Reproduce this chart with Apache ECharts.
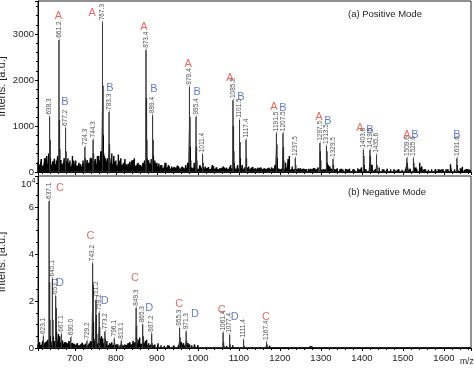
<!DOCTYPE html>
<html><head><meta charset="utf-8">
<script src="https://cdn.jsdelivr.net/npm/echarts@6/dist/echarts.min.js"></script>
<style>html,body{margin:0;padding:0;background:#fff}#c{width:474px;height:379px}</style>
</head><body><div id="c"></div>
<script>
// ---------- Positive mode (a) ----------
const posLabelMz  = [638.3,661.2,677.2,724.3,744.3,767.3,783.3,873.4,889.4,979.4,995.4,1011.4,1085.5,1101.5,1117.4,1191.5,1207.5,1237.5,1297.5,1313.5,1329.5,1403.6,1419.6,1435.6,1509.6,1525.6,1631.6];
const posLabelInt = [1200,2870,950,540,700,3250,1300,2650,1230,1850,1200,380,1560,1130,700,840,840,300,630,560,280,480,480,370,300,300,300];

const posMinorMz  = [626,631,636,639.3,640.3,655,659,662.2,663.2,664.2,678.2,679.2,683,688,694,697,720,725.3,730,740,745.3,750,755,758,763,768.3,769.3,770.3,772,779,784.3,785.3,790,795,800,806,812,820,830,838,845,852,860,866,870,874.4,875.4,876.4,880,886,890.4,891.4,895,900,905,912,920,928,936,945,952,960,970,975,980.4,981.4,982.4,991,996.4,997.4,1005,1012.4,1018,1025,1035,1045,1055,1065,1080,1086.5,1087.5,1088.5,1097,1102.5,1103.5,1108,1118.4,1124,1132,1140,1150,1160,1170,1180,1188,1192.5,1193.5,1208.5,1209.5,1214,1220,1223,1230,1238.5,1245,1255,1265,1275,1285,1293,1298.5,1299.5,1314.5,1315.5,1318,1322,1330.5,1340,1350,1360,1370,1380,1390,1399,1404.6,1405.6,1420.6,1421.6,1425,1436.6,1442,1450,1460,1470,1480,1490,1510.6,1511.6,1526.6,1527.6,1532,1541,1546,1555,1570,1580,1595,1605,1616,1617,1632.6,1640,1645,1655];
const posMinorInt = [300,350,400,700,300,250,300,1130,500,200,450,200,300,250,350,250,250,300,200,300,400,250,350,350,450,1880,800,400,350,300,600,300,400,350,250,380,300,200,180,250,300,180,150,200,250,1600,700,300,250,280,700,350,250,200,180,150,200,150,120,100,130,100,150,200,1200,550,250,200,550,250,150,200,120,100,150,100,80,100,150,1000,450,200,150,650,300,150,300,120,100,80,90,70,80,100,150,600,300,550,250,200,280,350,120,150,80,70,60,70,80,100,450,250,450,200,150,120,150,80,60,70,60,60,80,100,350,150,350,180,150,150,100,60,50,60,50,60,200,100,200,100,100,200,120,60,50,60,50,60,170,100,150,80,110,60];

const noiseStart = 610, noiseStep = 4;
const posNoise = [220,160,280,140,240,310,180,260,150,230, 290,170,350,200,260,180,300,150,240,190, 120,210,160,250,140,200,170,120,180,150, 260,200,310,170,240,280,190,350,260,220, 180,300,240,200,150,260,180,230,140,200, 250,160,190,280,170,140,220,180,260,150, 130,200,160,120,180,230,150,260,190,210, 170,140,190,
 120,90,150,80,110,200,100,130,70,90, 110,80,140,100,70,120,90,60,100,80, 130,90,70,110,80,60,120,90,100,70, 80,110,60,90,130,70,100,60,80,90, 120,70,90,60,110,80,70,100,60,90, 70,80,60,100,70,90,60,80,110,70, 60,90,70,100,60,80,70,50,90,60, 80,70,60,90,70,
 60,80,50,70,90,60,50,80,60,70, 50,60,80,50,70,60,40,70,50,60, 80,50,60,40,70,50,60,50,80,60, 40,70,50,60,50,40,60,70,50,40, 60,50,70,40,60,50,40,60,50,70, 40,50,60,40,50,70,40,50,60,40, 50,40,60,50,40,70,40,50,40,60, 40,50,60,40,50,40,60,40,50,70, 40,50,40,60,40,50,40,50,60,40, 50,40,60,40,50,40,60,50,40,60, 40,50,60,40,50,40,60,40,50,40, 60,40,50,40,60,50,40];

const posAMz = [659.5,742,868.3,976.3,1078,1185.4,1295,1395,1509.8];
const posAY  = [3390,3465,3160,2350,2035,1413,1196,957,804];
const posBMz = [675.6,785.4,892.7,998.3,1104.9,1207.3,1317,1419.5,1529,1631.7];
const posBY  = [1530,1820,1800,1745,1630,1390,1110,913,804,804];

// ---------- Negative mode (b), intensity in 10^4 ----------
const negLabelMz  = [623.1,637.1,645.1,653.1,667.1,690.0,729.2,743.2,751.2,759.2,773.2,796.1,813.1,849.3,865.3,887.2,955.3,971.3,1061.4,1077.4,1111.4,1167.4];
const negLabelInt = [0.5,6.25,2.95,2.2,0.6,0.45,0.3,3.6,2.05,1.5,0.7,0.4,0.3,1.7,1.0,0.6,0.85,0.7,0.65,0.55,0.35,0.25];

const negMinorMz  = [628,632,638.1,639.1,640.1,646.1,647.1,654.1,655.1,660,663,668.1,675,680,691,700,710,720,735,738,744.2,745.2,746.2,752.2,753.2,760.2,761.2,765,768,774.2,778,785,790,797.1,805,814.1,820,830,840,846,850.3,851.3,856,858,866.3,867.3,872,875,880,888.2,895,903,910,956.3,957.3,960,965,972.3,976,980,985,992,1000,1010,1062.4,1063.4,1070,1078.4,1085,1092,1112.4,1168.4,1175,1182,1190,1275,1290];
const negMinorInt = [0.25,0.3,2.8,1.2,0.5,1.2,0.5,1.7,0.7,0.6,0.5,0.35,0.25,0.2,0.2,0.15,0.12,0.15,0.2,0.3,2.7,1.1,0.4,1.4,0.6,0.9,0.4,0.5,0.4,0.4,0.3,0.2,0.25,0.2,0.15,0.15,0.1,0.12,0.15,0.25,0.95,0.4,0.35,0.45,0.5,0.2,0.3,0.35,0.2,0.2,0.15,0.2,0.1,0.45,0.2,0.25,0.2,0.3,0.2,0.15,0.12,0.15,0.12,0.08,0.25,0.1,0.1,0.15,0.12,0.08,0.1,0.15,0.1,0.08,0.06,0.06,0.05];

const negNoise = [0.15,0.25,0.12,0.3,0.18,0.22,0.35,0.2,0.28,0.15, 0.3,0.2,0.25,0.4,0.22,0.3,0.18,0.25,0.2,0.3, 0.15,0.22,0.18,
 0.12,0.2,0.1,0.15,0.22,0.12,0.18,0.1,0.14,0.2, 0.25,0.15,0.3,0.2,0.18,0.25,0.15,0.2,0.12,0.18, 0.1,0.15,0.2,0.12,0.1,0.15,0.08,0.12,0.18,0.1, 0.15,0.12,0.2,0.25,0.15,0.3,0.2,0.25,0.15,0.2, 0.18,0.12,0.2,0.15,0.1,0.12,0.15,0.1,0.12,0.08,
 0.1,0.08,0.12,0.06,0.1,0.08,0.12,0.1,0.06,0.08, 0.1,0.06,0.08,0.12,0.1,0.15,0.1,0.12,0.08,0.1, 0.06,0.08,0.05,0.07,0.06,0.08,0.05,0.06,0.04,0.06, 0.05,0.07,0.05,0.06,0.08,0.05,0.06,0.04,0.05,0.06, 0.04,0.05,0.06,0.04,0.05,0.07,0.04,0.05,0.04,0.06, 0.04,0.05,0.04,0.06,0.05,0.04,0.05,0.04,0.06,0.04, 0.05,0.04,0.05,0.04,0.05,0.06,0.04,0.05,0.04,0.05, 0.04,0.05,0.04,0.05,0.04,
 0.03,0.04,0.02,0.03,0.04,0.03,0.02,0.03,0.04,0.03, 0.02,0.03,0.05,0.03,0.02,0.04,0.03,0.02,0.03,0.04, 0.05,0.03,0.06,0.04,0.03,0.05,0.03,0.02,0.04,0.03, 0.02,0.03,0.04,0.02,0.03,0.02,0.04,0.03,0.02,0.03, 0.02,0.03,0.02,0.04,0.02,0.03,0.02,0.03,0.02,0.03, 0.02,0.04,0.02,0.03,0.02,0.03,0.02,0.02,0.03,0.02, 0.03,0.02,0.04,0.02,0.03,0.02,0.02,0.03,0.02,0.03, 0.02,0.03,0.02,0.02,0.03,0.02,0.03,0.02,0.02,0.03, 0.02,0.02,0.03,0.02,0.03,0.02,0.02,0.03,0.02,0.02, 0.03,0.02,0.02,0.03,0.02,0.02,0.03,0.02,0.02,0.03, 0.02,0.02,0.03,0.02,0.02,0.03,0.02,0.02,0.03,0.02, 0.02,0.03,0.02,0.02,0.03,0.02,0.02];

const negCMz = [663.4,738.2,846.3,954.4,1057.8,1165.9];
const negCY  = [6.82,4.77,2.97,1.86,1.62,1.33];
const negDMz = [663.4,773,881,992.7,1090];
const negDY  = [2.75,2.0,1.69,1.45,1.33];

const xTicks = [700,800,900,1000,1100,1200,1300,1400,1500,1600];

// ---------- build ----------
const FONT = 'Liberation Sans, Arial, sans-serif';
const RED = '#e2463a', BLUE = '#3a5cb5';
function sticks(xs, ys){
  const pairs = xs.map((x,i)=>[x, ys[i]]).sort((a,b)=>a[0]-b[0]);
  const out = [];
  pairs.forEach(p=>{ out.push([p[0],0],[p[0],p[1]],[p[0],0]); });
  return out;
}
function noiseX(arr){ return arr.map((_,i)=>noiseStart + noiseStep*i); }
const posSpecX = noiseX(posNoise).concat(posMinorMz);
const posSpecY = posNoise.concat(posMinorInt);
const negSpecX = noiseX(negNoise).concat(negMinorMz);
const negSpecY = negNoise.concat(negMinorInt);

function specSeries(xs, ys, idx, color, w){
  return {type:'line', xAxisIndex:idx, yAxisIndex:idx, data:sticks(xs,ys), showSymbol:false, symbol:'none',
    lineStyle:{color:color, width:w}, animation:false, silent:true};
}
function labelSeries(xs, ys, idx){
  return {type:'scatter', xAxisIndex:idx, yAxisIndex:idx, symbolSize:0.1, itemStyle:{color:'rgba(0,0,0,0)'},
    data: xs.map((x,i)=>[x, ys[i]]), animation:false, silent:true,
    label:{show:true, position:'top', distance:0, rotate:90, align:'left', verticalAlign:'middle',
      formatter:p=>'-' + p.value[0].toFixed(1), fontSize:6.5, color:'#222', fontFamily:FONT}};
}
function letterSeries(xs, ys, idx, txt, color){
  return {type:'scatter', xAxisIndex:idx, yAxisIndex:idx, symbolSize:0.1, itemStyle:{color:'rgba(0,0,0,0)'},
    data: xs.map((x,i)=>[x, ys[i]]), animation:false, silent:true,
    label:{show:true, position:'inside', formatter:txt, fontSize:11, color:color, fontFamily:FONT}};
}
const xBase = {type:'value', min:610, max:1666, splitNumber:10, splitLine:{show:false},
  axisLine:{lineStyle:{color:'#000'}}, axisTick:{length:3, lineStyle:{color:'#000'}},
  minorTick:{show:true, splitNumber:5, length:2, lineStyle:{color:'#000'}}};
const yName = {name:'Intens. [a.u.]', nameLocation:'middle', nameGap:31, nameMoveOverlap:false,
  nameTextStyle:{fontSize:11, color:'#222', fontFamily:FONT}};
const chart = echarts.init(document.getElementById('c'), null, {renderer:'canvas'});
chart.setOption({
  backgroundColor:'#fff', animation:false,
  grid:[{left:38, top:1, width:433, height:171, show:true, borderColor:'#222', borderWidth:1, containLabel:false, outerBoundsMode:'none'},
        {left:38, top:176, width:433, height:172, show:true, borderColor:'#222', borderWidth:1, containLabel:false, outerBoundsMode:'none'}],
  xAxis:[Object.assign({}, xBase, {gridIndex:0, axisLabel:{show:false}}),
         Object.assign({}, xBase, {gridIndex:1, axisLabel:{fontSize:9.5, color:'#222', fontFamily:FONT, margin:5,
            showMinLabel:false, showMaxLabel:false,
            formatter:v=> xTicks.indexOf(v) >= 0 ? String(v) : ''}})],
  yAxis:[Object.assign({type:'value', gridIndex:0, min:0, max:3717, interval:1000, splitLine:{show:false},
          axisLine:{show:true, lineStyle:{color:'#000'}}, axisTick:{length:3, lineStyle:{color:'#000'}},
          minorTick:{show:true, splitNumber:5, length:2, lineStyle:{color:'#000'}},
          axisLabel:{fontSize:9.5, color:'#222', fontFamily:FONT, margin:4, showMaxLabel:false,
            formatter:v=> v % 1000 === 0 ? String(v) : ''}}, yName),
         Object.assign({type:'value', gridIndex:1, min:0, max:7.32, interval:2, splitLine:{show:false},
          axisLine:{show:true, lineStyle:{color:'#000'}}, axisTick:{length:3, lineStyle:{color:'#000'}},
          minorTick:{show:true, splitNumber:4, length:2, lineStyle:{color:'#000'}},
          axisLabel:{fontSize:9.5, color:'#222', fontFamily:FONT, margin:4, showMaxLabel:false,
            formatter:v=> (Math.abs(v - Math.round(v)) < 1e-9 && Math.round(v) % 2 === 0) ? String(Math.round(v)) : ''}}, yName)],
  graphic:[
    {type:'text', left:348, top:9, style:{text:'(a) Positive Mode', fontSize:9.5, fill:'#222', font:'9.5px ' + FONT}},
    {type:'text', left:348, top:187, style:{text:'(b) Negative Mode', fontSize:9.5, fill:'#222', font:'9.5px ' + FONT}},
    {type:'text', left:21, top:178, style:{text:'{a|10}{b|4}', rich:{a:{fontSize:9.5, fontFamily:FONT, fill:'#222'}, b:{fontSize:7, fontFamily:FONT, fill:'#222', verticalAlign:'top', padding:[0,0,6,0]}}}},
    {type:'text', left:460, top:357, style:{text:'m/z', fontSize:8.5, fill:'#222', font:'8.5px ' + FONT}}
  ],
  series:[
    specSeries(posSpecX, posSpecY, 0, '#000', 1.4),
    specSeries(posLabelMz, posLabelInt, 0, '#3a3a3a', 1),
    labelSeries(posLabelMz, posLabelInt, 0),
    letterSeries(posAMz, posAY, 0, 'A', RED),
    letterSeries(posBMz, posBY, 0, 'B', BLUE),
    specSeries(negSpecX, negSpecY, 1, '#000', 1.4),
    specSeries(negLabelMz, negLabelInt, 1, '#3a3a3a', 1),
    labelSeries(negLabelMz, negLabelInt, 1),
    letterSeries(negCMz, negCY, 1, 'C', RED),
    letterSeries(negDMz, negDY, 1, 'D', BLUE)
  ]
});
</script></body></html>
